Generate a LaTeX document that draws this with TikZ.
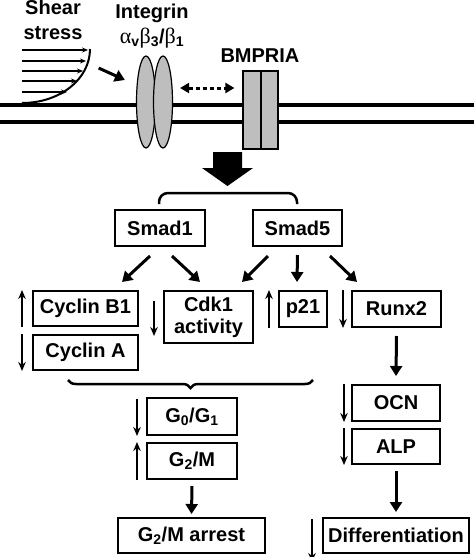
\documentclass[tikz,border=0pt]{standalone}
\usepackage{fontspec}
\setmainfont{Liberation Sans}
\newfontfamily\grk{Liberation Serif}
\usetikzlibrary{positioning,arrows.meta,shapes.geometric,decorations.pathreplacing}
\definecolor{recgray}{HTML}{BEBEBE}

\begin{document}
\begin{tikzpicture}[x=1pt,y=-1pt,
    box/.style={draw,line width=2pt,inner sep=0pt,minimum height=36pt,align=center,font=\bfseries\fontsize{20}{22}\selectfont},
    lbl/.style={inner sep=0pt,align=center,font=\bfseries\fontsize{20}{25}\selectfont},
    recep/.style={draw,line width=1.2pt,fill=recgray,inner sep=0pt},
    arr/.style={line width=3pt,-{Triangle[length=10pt,width=12pt]}},
    updown/.style={line width=1.8pt,-{Stealth[length=9pt,width=7.5pt]}},
    flow/.style={line width=1.4pt,-{Stealth[length=6pt,width=5pt]}}]
    \useasboundingbox (0,0) rectangle (474,557);
    \draw[line width=4pt] (0,105) -- (474,105);
    \draw[line width=4pt] (0,122) -- (474,122);
    \node[lbl] (shear) at (53,20) {Shear\\stress};
    \node[lbl] (integrin) at (152,26) {Integrin\\{\mdseries\grk\fontsize{22}{25}\selectfont α}\textsubscript{v}{\mdseries\grk\fontsize{22}{25}\selectfont β}\textsubscript{3}/{\mdseries\grk\fontsize{22}{25}\selectfont β}\textsubscript{1}};
    \node[lbl] (bmplbl) at (260,56) {BMPRIA};
    \foreach \yy/\xx in {50/88,61/86,71/83,81/77,92/67}
      \draw[flow] (22,\yy) -- (\xx,\yy);
    \draw[line width=2pt] (90,49) .. controls (90,79) and (60,103) .. (22,103);
    \node[recep,ellipse,minimum width=19pt,minimum height=92pt] (intA) at (146,102) {};
    \node[recep,ellipse,minimum width=19pt,minimum height=92pt] (intB) at (163,102) {};
    \node[recep,minimum width=18pt,minimum height=78pt] (bmpA) at (252,110) {};
    \node[recep,minimum width=17pt,minimum height=78pt] (bmpB) at (269.5,110) {};
    \draw[arr] ([shift={(16pt,-28pt)}]shear.south east) -- ([shift={(-11pt,22pt)}]intA.west);
    \draw[line width=3pt,dash pattern=on 4pt off 3pt,{Triangle[length=9pt,width=10pt]}-{Triangle[length=9pt,width=10pt]}] ([shift={(7pt,14pt)}]intB.east) -- ([shift={(-8pt,22pt)}]bmpA.west);
    \fill (213,152) -- (242,152) -- (242,168) -- (253,168) -- (227.5,186) -- (202,168) -- (213,168) -- cycle;
    \draw[line width=2.5pt,rounded corners=9pt] (159,204) -- (159,193) -- (297,193) -- (297,204);
    \node[box,minimum width=90pt] (smad1) at (160,228) {Smad1};
    \node[box,minimum width=89pt] (smad5) at (297.5,228) {Smad5};
    \node[box,minimum width=105pt,minimum height=35pt] (cycb) at (85.5,308.5) {Cyclin B1};
    \node[box,minimum width=105pt,minimum height=35pt] (cyca) at (85.5,352.5) {Cyclin A};
    \node[box,minimum width=89pt,minimum height=52pt] (cdk) at (208.5,317) {Cdk1\\activity};
    \node[box,minimum width=48pt] (p21) at (303,309) {p21};
    \node[box,minimum width=89pt] (runx) at (396.5,309) {Runx2};
    \node[box,minimum width=90pt,minimum height=37pt] (gzero) at (192,416.5) {G\textsubscript{0}/G\textsubscript{1}};
    \node[box,minimum width=90pt] (gtwo) at (192,461) {G\textsubscript{2}/M};
    \node[box,minimum width=147pt,minimum height=35pt] (arrest) at (191.5,535.5) {G\textsubscript{2}/M arrest};
    \node[box,minimum width=88pt] (ocn) at (396,403) {OCN};
    \node[box,minimum width=88pt,minimum height=35pt] (alp) at (396,446.5) {ALP};
    \node[box,minimum width=146pt,minimum height=35pt] (diff) at (396,535.5) {Differentiation};
    \draw[arr] ([xshift=-10pt,yshift=-9pt]smad1.south) -- ([xshift=36.5pt,yshift=8pt]cycb.north);
    \draw[arr] ([xshift=12pt,yshift=-9pt]smad1.south) -- ([xshift=-8.5pt,yshift=8pt]cdk.north);
    \draw[arr] ([xshift=-29.5pt,yshift=-9pt]smad5.south) -- ([xshift=33.5pt,yshift=8pt]cdk.north);
    \draw[arr] ([yshift=-8pt]smad5.south) -- ([xshift=-6pt,yshift=8pt]p21.north);
    \draw[arr] ([xshift=32.5pt,yshift=-9pt]smad5.south) -- ([xshift=-39.5pt,yshift=8pt]runx.north);
    \draw[arr] ([yshift=-8pt]runx.south) -- ([yshift=8pt]ocn.north);
    \draw[arr] ([yshift=-6pt]gtwo.south) -- ([yshift=3pt]arrest.north);
    \draw[arr] ([yshift=-6pt]alp.south) -- ([yshift=5pt]diff.north);
    \draw[updown] ([xshift=-10pt]cycb.south west) -- ([xshift=-10pt]cycb.north west);
    \draw[updown] ([xshift=-10pt]cyca.north west) -- ([xshift=-10pt]cyca.south west);
    \draw[updown] ([xshift=-9pt,yshift=-11pt]cdk.north west) -- ([xshift=-9pt,yshift=8pt]cdk.south west);
    \draw[updown] ([xshift=-9pt]p21.south west) -- ([xshift=-9pt]p21.north west);
    \draw[updown] ([xshift=-8pt]runx.north west) -- ([xshift=-8pt]runx.south west);
    \draw[updown] ([xshift=-9pt,yshift=-2pt]gzero.north west) -- ([xshift=-9pt]gzero.south west);
    \draw[updown] ([xshift=-9pt]gtwo.south west) -- ([xshift=-9pt]gtwo.north west);
    \draw[updown] ([xshift=-7pt]ocn.north west) -- ([xshift=-7pt]ocn.south west);
    \draw[updown] ([xshift=-7pt]alp.north west) -- ([xshift=-7pt]alp.south west);
    \draw[updown] ([xshift=-10pt,yshift=-2pt]diff.north west) -- ([xshift=-10pt,yshift=-8pt]diff.south west);
    \draw[line width=2.5pt,decorate,decoration={brace,mirror,amplitude=8pt}] (68,380) -- (313,380);
  \end{tikzpicture}
\end{document}
